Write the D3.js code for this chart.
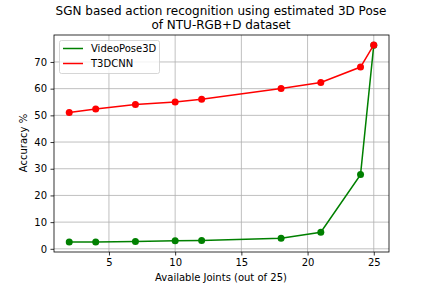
<!DOCTYPE html>
<html><head><meta charset="utf-8">
<script src="https://cdn.jsdelivr.net/npm/d3@7"></script>
<style>body{margin:0;background:#fff}svg{display:block}text{font-family:"DejaVu Sans",sans-serif;fill:#000}</style>
</head><body>
<svg id="c" width="432" height="288"></svg>
<script>
const joints = [2, 4, 7, 10, 12, 18, 21, 24, 25];
const videoPose3D = [2.6, 2.6, 2.7, 3.0, 3.1, 4.0, 6.2, 27.8, 76.3];
const t3dcnn = [51.1, 52.4, 54.1, 55.0, 56.0, 60.1, 62.3, 68.1, 76.4];
const xTicks = [5, 10, 15, 20, 25];
const yTicks = [0, 10, 20, 30, 40, 50, 60, 70];
const seriesNames = ["VideoPose3D", "T3DCNN"];
const seriesColors = ["green", "red"];

const svg = d3.select("#c");
const L = 54, R = 389, T = 35, B = 252;
const x = d3.scaleLinear().domain([0.85, 26.15]).range([L, R]);
const y = d3.scaleLinear().domain([-1.19, 80.1]).range([B, T]);

// grid
const g = svg.append("g");
g.selectAll(".gx").data(xTicks).enter().append("line")
  .attr("x1", d => x(d)).attr("x2", d => x(d)).attr("y1", T).attr("y2", B)
  .attr("stroke", "#b0b0b0").attr("stroke-width", 0.8);
g.selectAll(".gy").data(yTicks).enter().append("line")
  .attr("y1", d => y(d)).attr("y2", d => y(d)).attr("x1", L).attr("x2", R)
  .attr("stroke", "#b0b0b0").attr("stroke-width", 0.8);

// axes
const xa = svg.append("g").attr("transform", `translate(0,${B})`)
  .call(d3.axisBottom(x).tickValues(xTicks).tickSize(3.5).tickPadding(3.5).tickFormat(d3.format("d")));
const ya = svg.append("g").attr("transform", `translate(${L},0)`)
  .call(d3.axisLeft(y).tickValues(yTicks).tickSize(3.5).tickPadding(3.5).tickFormat(d3.format("d")));
[xa, ya].forEach(a => {
  a.select(".domain").remove();
  a.selectAll("line").attr("stroke", "#000").attr("stroke-width", 0.8);
  a.selectAll("text").attr("font-size", 10).attr("font-family", "DejaVu Sans").attr("fill", "#000");
});
svg.append("rect").attr("x", L).attr("y", T).attr("width", R - L).attr("height", B - T)
  .attr("fill", "none").attr("stroke", "#000").attr("stroke-width", 0.8);

// series
const data = [videoPose3D, t3dcnn];
const line = d3.line().x((d, i) => x(joints[i])).y(d => y(d));
data.forEach((s, k) => {
  svg.append("path").datum(s).attr("d", line).attr("fill", "none")
    .attr("stroke", seriesColors[k]).attr("stroke-width", 1.5);
  svg.selectAll(null).data(s).enter().append("circle")
    .attr("cx", (d, i) => x(joints[i])).attr("cy", d => y(d)).attr("r", 3.5)
    .attr("fill", seriesColors[k]);
});

// legend
const lg = svg.append("g");
lg.append("rect").attr("x", 59.5).attr("y", 40.5).attr("width", 100).attr("height", 33).attr("rx", 2)
  .attr("fill", "#fff").attr("fill-opacity", 0.8).attr("stroke", "#ccc").attr("stroke-width", 0.8);
seriesNames.forEach((n, k) => {
  const yy = 48.5 + k * 15;
  lg.append("line").attr("x1", 63).attr("x2", 83).attr("y1", yy).attr("y2", yy)
    .attr("stroke", seriesColors[k]).attr("stroke-width", 1.5);
  lg.append("text").attr("x", 91).attr("y", yy + 3.5).attr("font-size", 10).text(n);
});

// titles
svg.append("text").attr("x", 221).attr("y", 15).attr("text-anchor", "middle").attr("font-size", 12)
  .text("SGN based action recognition using estimated 3D Pose");
svg.append("text").attr("x", 221).attr("y", 29).attr("text-anchor", "middle").attr("font-size", 12)
  .text("of NTU-RGB+D dataset");
svg.append("text").attr("x", 221).attr("y", 281).attr("text-anchor", "middle").attr("font-size", 10)
  .text("Available Joints (out of 25)");
svg.append("text").attr("transform", "translate(27,143) rotate(-90)").attr("text-anchor", "middle")
  .attr("font-size", 10).text("Accuracy %");
</script>
</body></html>
